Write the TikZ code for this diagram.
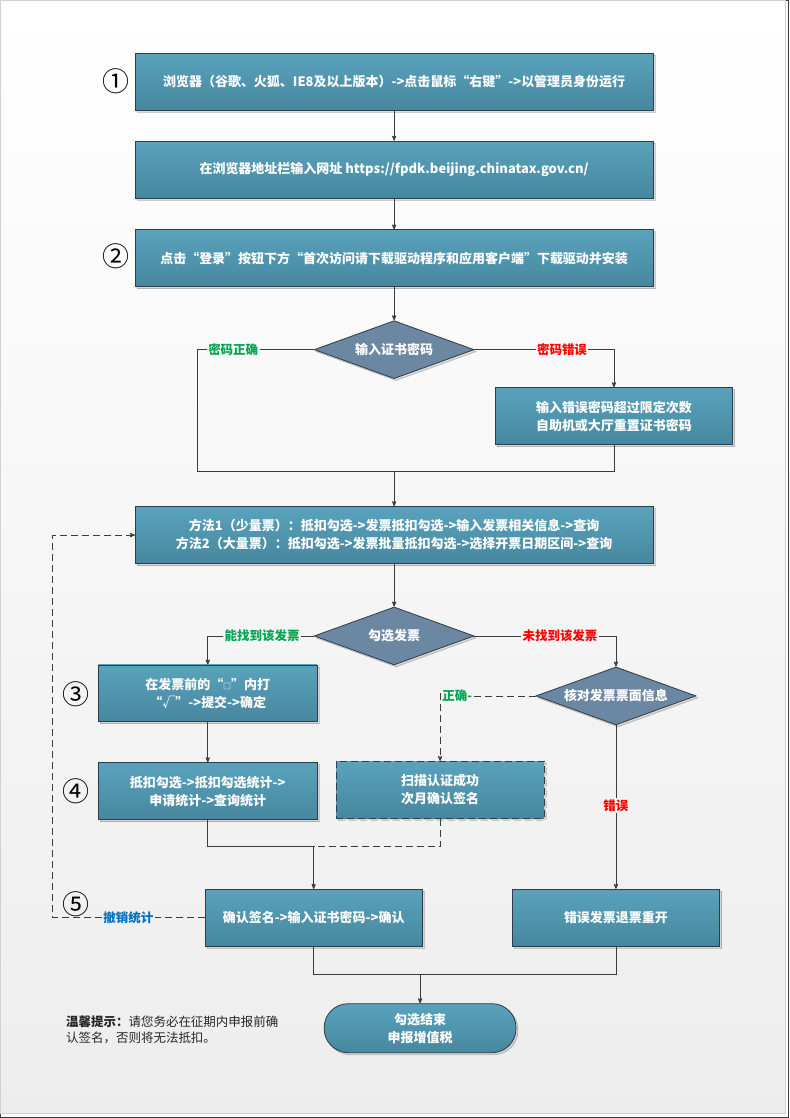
\documentclass[tikz,border=0pt]{standalone}
\usepackage{fontspec}
\setmainfont{Noto Sans CJK SC}
\usepackage{tikz}
\usetikzlibrary{arrows,positioning,shapes.geometric,shadows}

\definecolor{boxtop}{HTML}{5AA2BC}
\definecolor{boxbot}{HTML}{46879F}
\definecolor{boxline}{HTML}{2E3D48}
\definecolor{dia}{HTML}{6B87A1}
\definecolor{okgreen}{HTML}{00A651}
\definecolor{errred}{HTML}{FF0000}
\definecolor{undoblue}{HTML}{0070C0}
\definecolor{wire}{HTML}{3C3C3C}

\begin{document}
\begin{tikzpicture}[x=1pt,y=-1pt,>=stealth',node distance=30pt,
    every path/.style={draw=wire,line width=0.8pt},
    dsh/.style={dash pattern=on 7pt off 4pt},
    box/.style={draw=boxline,top color=boxtop,bottom color=boxbot,text=white,
      font=\fontsize{13}{18}\selectfont\bfseries,align=center,minimum height=57pt,
      inner sep=0pt,drop shadow={opacity=0.25,shadow xshift=2pt,shadow yshift=-2pt}},
    wide/.style={box,minimum width=518pt},
    small/.style={box,minimum width=219pt},
    dec/.style={diamond,draw=boxline,fill=dia,text=white,aspect=2.7,inner sep=0pt,
      minimum width=160pt,minimum height=58pt,font=\fontsize{13}{16}\selectfont\bfseries,
      drop shadow={opacity=0.25,shadow xshift=2pt,shadow yshift=-2pt}},
    term/.style={box,rounded corners=24pt,minimum width=192pt,minimum height=49pt},
    lbl/.style={font=\fontsize{12.5}{14}\selectfont\bfseries,inner sep=1pt},
    num/.style={font=\fontsize{27}{27}\selectfont,text=black,inner sep=0pt}]
  \useasboundingbox (0,0) rectangle (789,1118);
  \fill[draw=black!18,top color=white,bottom color=black!7] (0,0) rectangle (786,1114);

  % main column
  \node[wide] (s1) at (394,81.5) {浏览器（谷歌、火狐、IE8及以上版本）->点击鼠标“右键”->以管理员身份运行};
  \node[wide,below=of s1] (s2) {在浏览器地址栏输入网址 https://fpdk.beijing.chinatax.gov.cn/};
  \node[wide,below=31pt of s2] (s3) {点击“登录”按钮下方“首次访问请下载驱动程序和应用客户端”下载驱动并安装};
  \node[dec] (pw) at (394,349.5) {输入证书密码};
  \node[box,minimum width=238pt] (reset) at (614,416) {输入错误密码超过限定次数\\自助机或大厅重置证书密码};
  \node[wide] (find) at (394,535) {方法1（少量票）：抵扣勾选->发票抵扣勾选->输入发票相关信息->查询\\方法2（大量票）：抵扣勾选->发票批量抵扣勾选->选择开票日期区间->查询};
  \node[dec] (pick) at (394,636) {勾选发票};
  \node[small] (tick) at (207.5,693.5) {在发票前的“{\fontsize{8}{8}\selectfont □}”内打\\“√”->提交->确定};
  \node[dec] (chk) at (616,696) {核对发票票面信息};
  \node[small,below=40pt of tick] (stat) {抵扣勾选->抵扣勾选统计->\\申请统计->查询统计};
  \node[box,dsh,minimum width=208pt] (scan) at (440,790) {扫描认证成功\\次月确认签名};
  \node[box,minimum width=217pt] (sign) at (313.5,918) {确认签名->输入证书密码->确认};
  \node[box,minimum width=208pt] (redo) at (616,918) {错误发票退票重开};
  \node[term] (end) at (420,1028.5) {勾选结束\\申报增值税};

  % step numbers
  \node[num] (n1) at (116,81) {①};
  \node[num] (n2) at (116,256) {②};
  \node[num] (n3) at (76,694) {③};
  \node[num] (n4) at (76,791) {④};
  \node[num] (n5) at (76,904) {⑤};

  % branch labels
  \node[lbl,text=okgreen] (okpw) at (233,349.5) {密码正确};
  \node[lbl,text=errred] (errpw) at (562,349.5) {密码错误};
  \node[lbl,text=okgreen] (fnd) at (262,636) {能找到该发票};
  \node[lbl,text=errred] (nfd) at (560,636) {未找到该发票};
  \node[lbl,text=okgreen,anchor=west] (okchk) at (441,696) {正确-};
  \node[lbl,text=errred] (err) at (616,806) {错误};
  \node[lbl,text=undoblue] (undo) at (128,918) {撤销统计};

  \coordinate (c1) at (197,471);
  \coordinate (j1) at (394,471);
  \coordinate (c2) at (440,693);
  \coordinate (m) at (313.5,847);
  \coordinate (c3) at (52,918);
  \coordinate (b1) at (420,975);

  \draw[->] (s1) -- (s2);
  \draw[->] (s2) -- (s3);
  \draw[->] (s3) -- (pw);
  \draw (pw.west) -- (okpw.east);
  \draw (okpw.west) -| (c1) -- (reset.south |- c1) -- (reset.south);
  \draw (pw.east) -- (errpw.west);
  \draw[->] (errpw.east) -| (reset.north);
  \draw[->] (j1) -- (find);
  \draw[->] (find) -- (pick);
  \draw (pick.west) -- (fnd.east);
  \draw[->] (fnd.west) -| (tick.north);
  \draw (pick.east) -- (nfd.west);
  \draw[->] (nfd.east) -| (chk.north);
  \draw[dsh] (chk.west) -- (okchk.east);
  \draw[dsh,->] (c2) -- (scan.north);
  \draw[->] (tick) -- (stat);
  \draw (chk.south) -- (err.north);
  \draw[->] (err.south) -- (redo.north);
  \draw (stat.south) |- (m);
  \draw[dsh] (scan.south) |- (m);
  \draw[->] (m) -- (sign.north);
  \draw[dsh] (sign.west) -- (undo.east);
  \draw[dsh,->] (undo.west) -- (c3) |- (find.west);
  \draw (sign.south) |- (b1) -- (redo.south |- b1) -- (redo.south);
  \draw[->] (b1) -- (end.north);

  % note
  \node[anchor=west,align=left,text=black!85,font=\fontsize{12.5}{16}\selectfont] (tip) at (62,1030)
    {\textbf{温馨提示：}请您务必在征期内申报前确\\认签名，否则将无法抵扣。};
\end{tikzpicture}
\end{document}
